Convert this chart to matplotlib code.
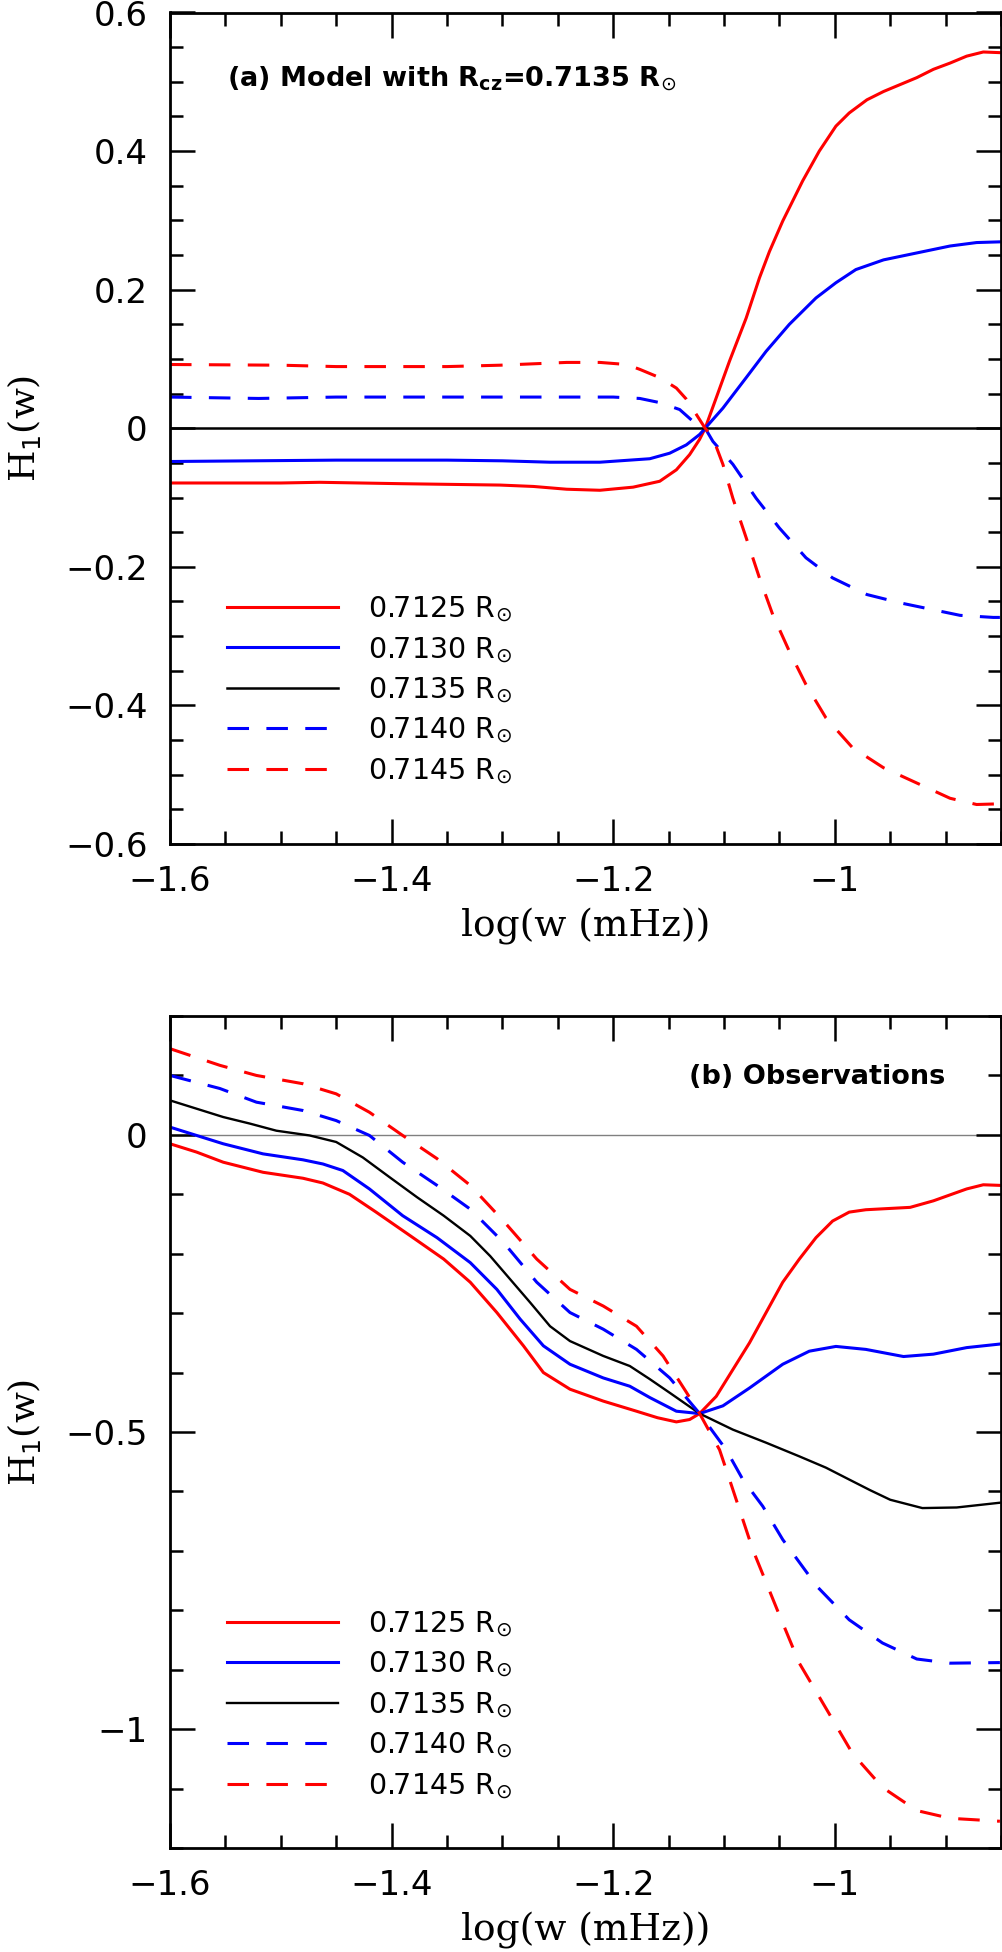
import matplotlib
matplotlib.use("Agg")
import matplotlib.pyplot as plt
from matplotlib.ticker import MultipleLocator, FixedLocator, FixedFormatter

# ---------------- data ----------------
labels = ["0.7125", "0.7130", "0.7135", "0.7140", "0.7145"]

# Panel (a): model with Rcz = 0.7135
a_x_r1 = [-1.6, -1.5, -1.465, -1.392, -1.302, -1.272, -1.242, -1.212, -1.182, -1.158, -1.143,
          -1.131, -1.122, -1.117, -1.107, -1.095, -1.080, -1.068, -1.059, -1.047, -1.029,
          -1.014, -0.999, -0.987, -0.971, -0.956, -0.926, -0.911, -0.896, -0.881, -0.866,
          -0.850]
a_y_r1 = [-0.079, -0.079, -0.078, -0.080, -0.082, -0.084, -0.088, -0.0895, -0.085, -0.0765, -0.060,
          -0.038, -0.016, 0.0, 0.044, 0.097, 0.159, 0.217, 0.255, 0.299, 0.357,
          0.400, 0.436, 0.455, 0.474, 0.486, 0.506, 0.518, 0.527, 0.537, 0.543,
          0.542]

a_x_b1 = [-1.6, -1.45, -1.35, -1.30, -1.257, -1.212, -1.167, -1.149, -1.134, -1.122, -1.117,
          -1.101, -1.080, -1.062, -1.041, -1.017, -0.999, -0.981, -0.956, -0.926, -0.896,
          -0.872, -0.851]
a_y_b1 = [-0.048, -0.046, -0.046, -0.047, -0.049, -0.049, -0.044, -0.036, -0.024, -0.009, 0.0,
          0.029, 0.073, 0.111, 0.150, 0.188, 0.210, 0.229, 0.243, 0.253, 0.263,
          0.268, 0.269]

a_x_k1 = [-1.6, -1.4, -1.2, -1.117, -1.0, -0.851]
a_y_k1 = [0.0, 0.0, 0.0, 0.0, 0.0, 0.0]

a_x_b2 = [-1.6, -1.52, -1.45, -1.35, -1.25, -1.20, -1.176, -1.158, -1.140, -1.128, -1.117,
          -1.110, -1.092, -1.071, -1.050, -1.026, -1.002, -0.971, -0.941, -0.911, -0.887,
          -0.857, -0.851]
a_y_b2 = [0.045, 0.043, 0.045, 0.045, 0.045, 0.045, 0.043, 0.037, 0.027, 0.010, 0.0,
          -0.019, -0.052, -0.101, -0.144, -0.187, -0.216, -0.240, -0.252, -0.262, -0.270,
          -0.273, -0.273]

a_x_r2 = [-1.6, -1.5, -1.45, -1.35, -1.302, -1.272, -1.242, -1.212, -1.188, -1.176, -1.158,
          -1.143, -1.134, -1.125, -1.117, -1.110, -1.101, -1.092, -1.080, -1.068, -1.056,
          -1.041, -1.026, -1.008, -0.984, -0.956, -0.926, -0.896, -0.872, -0.851]
a_y_r2 = [0.092, 0.091, 0.089, 0.089, 0.091, 0.093, 0.095, 0.095, 0.092, 0.085, 0.073,
          0.058, 0.042, 0.020, 0.0, -0.014, -0.052, -0.101, -0.158, -0.216, -0.269,
          -0.322, -0.370, -0.418, -0.461, -0.490, -0.512, -0.534, -0.543, -0.542]

# Panel (b): observations
b_x_r1 = [-1.6, -1.576, -1.552, -1.516, -1.480, -1.462, -1.438, -1.414, -1.383, -1.353, -1.329,
          -1.305, -1.281, -1.263, -1.239, -1.209, -1.179, -1.160, -1.143, -1.131, -1.122,
          -1.107, -1.092, -1.077, -1.062, -1.047, -1.032, -1.017, -1.002, -0.987, -0.972,
          -0.932, -0.911, -0.881, -0.866, -0.851]
b_y_r1 = [-0.015, -0.029, -0.046, -0.063, -0.073, -0.081, -0.100, -0.130, -0.170, -0.209, -0.248,
          -0.299, -0.355, -0.400, -0.428, -0.448, -0.465, -0.476, -0.483, -0.479, -0.469,
          -0.440, -0.395, -0.350, -0.299, -0.248, -0.209, -0.173, -0.145, -0.130, -0.126,
          -0.122, -0.111, -0.091, -0.084, -0.085]

b_x_b1 = [-1.6, -1.576, -1.552, -1.516, -1.480, -1.462, -1.444, -1.420, -1.390, -1.359, -1.329,
          -1.305, -1.284, -1.263, -1.239, -1.209, -1.185, -1.167, -1.143, -1.122, -1.101,
          -1.077, -1.047, -1.023, -0.999, -0.972, -0.938, -0.911, -0.881, -0.851]
b_y_b1 = [0.013, -0.001, -0.015, -0.032, -0.042, -0.049, -0.060, -0.091, -0.136, -0.173, -0.215,
          -0.260, -0.310, -0.355, -0.386, -0.409, -0.423, -0.442, -0.465, -0.469, -0.456,
          -0.426, -0.386, -0.364, -0.356, -0.361, -0.373, -0.369, -0.358, -0.352]

b_x_k1 = [-1.6, -1.576, -1.552, -1.528, -1.504, -1.474, -1.450, -1.426, -1.402, -1.377, -1.353,
          -1.329, -1.311, -1.293, -1.275, -1.257, -1.239, -1.209, -1.185, -1.167, -1.149,
          -1.122, -1.092, -1.062, -1.032, -1.008, -0.987, -0.968, -0.950, -0.921, -0.890,
          -0.851]
b_y_k1 = [0.058, 0.044, 0.030, 0.019, 0.007, -0.001, -0.012, -0.038, -0.071, -0.105, -0.136,
          -0.170, -0.204, -0.243, -0.282, -0.322, -0.347, -0.372, -0.389, -0.411, -0.434,
          -0.469, -0.496, -0.518, -0.541, -0.560, -0.580, -0.598, -0.614, -0.628, -0.627,
          -0.619]

b_x_b2 = [-1.6, -1.555, -1.522, -1.480, -1.450, -1.420, -1.390, -1.359, -1.329, -1.299, -1.269,
          -1.239, -1.209, -1.179, -1.149, -1.122, -1.098, -1.083, -1.065, -1.047, -1.016,
          -0.987, -0.957, -0.926, -0.896, -0.851]
b_y_b2 = [0.100, 0.078, 0.055, 0.041, 0.024, -0.001, -0.046, -0.085, -0.125, -0.181, -0.248,
          -0.299, -0.327, -0.361, -0.409, -0.469, -0.530, -0.580, -0.625, -0.681, -0.760,
          -0.816, -0.855, -0.882, -0.889, -0.888]

b_x_r2 = [-1.6, -1.555, -1.522, -1.480, -1.450, -1.420, -1.390, -1.359, -1.329, -1.299, -1.269,
          -1.239, -1.209, -1.179, -1.155, -1.134, -1.122, -1.104, -1.095, -1.074, -1.052,
          -1.032, -1.007, -0.984, -0.957, -0.926, -0.896, -0.851]
b_y_r2 = [0.145, 0.117, 0.100, 0.086, 0.069, 0.038, -0.001, -0.040, -0.085, -0.145, -0.209,
          -0.260, -0.288, -0.322, -0.372, -0.433, -0.469, -0.530, -0.580, -0.698, -0.799,
          -0.889, -0.968, -1.041, -1.098, -1.137, -1.150, -1.155]

xticks = [-1.6, -1.4, -1.2, -1.0]
xticklabels = ["\u22121.6", "\u22121.4", "\u22121.2", "\u22121"]
a_yticks = [-0.6, -0.4, -0.2, 0.0, 0.2, 0.4, 0.6]
a_yticklabels = ["\u22120.6", "\u22120.4", "\u22120.2", "0", "0.2", "0.4", "0.6"]
b_yticks = [-1.0, -0.5, 0.0]
b_yticklabels = ["\u22121", "\u22120.5", "0"]

# ---------------- styling ----------------
plt.rcParams['font.family'] = ['DejaVu Sans']
plt.rcParams['lines.scale_dashes'] = False
plt.rcParams['mathtext.fontset'] = 'dejavusans'

RED = '#ff0000'
BLUE = '#0000ff'
DASH = (15.5, 12.5)
LW = 2.2

fig = plt.figure(figsize=(10.03, 19.52), dpi=100)
axA = fig.add_axes([170/1003, 1 - 844/1952, 831/1003, 831.5/1952])
axB = fig.add_axes([170/1003, 1 - 1848/1952, 831/1003, 832/1952])


def style(ax, yticks, yticklabels, yminor, ylim):
    ax.set_xlim(-1.6, -0.85)
    ax.set_ylim(*ylim)
    ax.xaxis.set_major_locator(FixedLocator(xticks))
    ax.xaxis.set_major_formatter(FixedFormatter(xticklabels))
    ax.xaxis.set_minor_locator(MultipleLocator(0.05))
    ax.yaxis.set_major_locator(FixedLocator(yticks))
    ax.yaxis.set_major_formatter(FixedFormatter(yticklabels))
    ax.yaxis.set_minor_locator(MultipleLocator(yminor))
    ax.tick_params(which='both', direction='in', top=True, right=True, width=1.8,
                   colors='black')
    ax.tick_params(which='major', length=18, labelsize=24.5, pad=15)
    ax.tick_params(which='minor', length=9.5)
    ax.tick_params(axis='y', which='major', pad=16)
    for s in ax.spines.values():
        s.set_linewidth(2.0)
    ax.set_xlabel('log(w (mHz))', family='DejaVu Serif', fontsize=27)
    ax.set_ylabel(r'H$_1$(w)', family='DejaVu Serif', fontsize=26)
    ax.yaxis.set_label_coords(-0.153, 0.5)
    ax.xaxis.set_label_coords(0.5, -0.077)


def draw(ax, series):
    for (x, y, col, ls, lw), lab in zip(series, labels):
        text = lab + r' $\mathrm{R}_{\!\odot}$'
        if ls == 'dash':
            ax.plot(x, y, color=col, lw=lw, dashes=DASH, label=text)
        else:
            ax.plot(x, y, color=col, lw=lw, label=text)


style(axA, a_yticks, a_yticklabels, 0.05, (-0.6, 0.6))
style(axB, b_yticks, b_yticklabels, 0.1, (-1.2, 0.2))

axB.axhline(0, color='#808080', lw=1.0, zorder=1)

seriesA = [(a_x_r1, a_y_r1, RED, 'solid', LW),
           (a_x_b1, a_y_b1, BLUE, 'solid', LW),
           (a_x_k1, a_y_k1, 'black', 'solid', 1.8),
           (a_x_b2, a_y_b2, BLUE, 'dash', LW),
           (a_x_r2, a_y_r2, RED, 'dash', LW)]
seriesB = [(b_x_r1, b_y_r1, RED, 'solid', LW),
           (b_x_b1, b_y_b1, BLUE, 'solid', LW),
           (b_x_k1, b_y_k1, 'black', 'solid', 1.7),
           (b_x_b2, b_y_b2, BLUE, 'dash', LW),
           (b_x_r2, b_y_r2, RED, 'dash', LW)]

draw(axA, seriesA)
draw(axB, seriesB)

for ax, yc in ((axA, 0.185), (axB, 0.172)):
    ax.legend(loc='center left', bbox_to_anchor=(0.0686, yc), frameon=False,
              fontsize=20.5, handlelength=3.9, handletextpad=1.05,
              labelspacing=0.38, borderpad=0, borderaxespad=0)

axA.text(0.0686, 0.919, r'(a) Model with R$_{\mathbf{cz}}$=0.7135 $\mathbf{R}_{\!\odot}$',
         transform=axA.transAxes, fontsize=19.5, fontweight='bold', ha='left', va='center')
axB.text(0.9326, 0.9267, '(b) Observations', transform=axB.transAxes,
         fontsize=19.5, fontweight='bold', ha='right', va='center')

fig.savefig('out.png', dpi=100)
